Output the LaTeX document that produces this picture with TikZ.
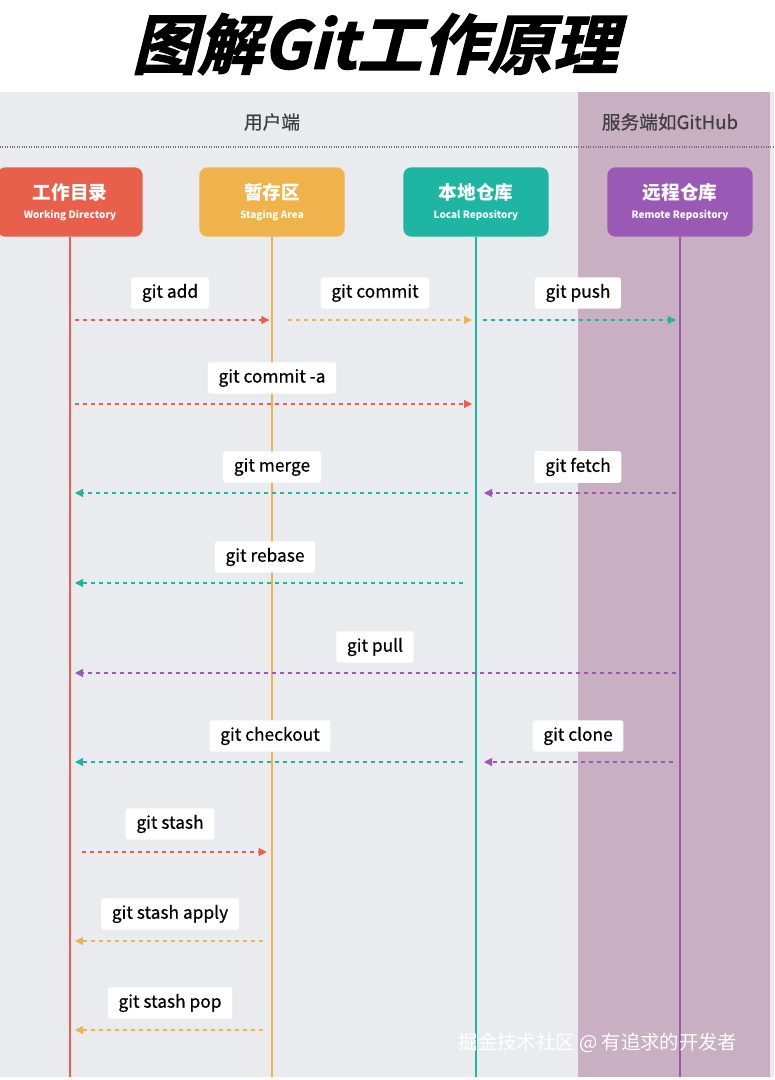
\documentclass[tikz,border=0pt]{standalone}
\usepackage{fontspec}
\setmainfont{Noto Sans CJK SC}
\newfontfamily\titlefont[FakeSlant=0.25,FakeBold=2]{Noto Sans CJK SC Bold}
\newfontfamily\labfont[FakeBold=0.6]{Noto Sans CJK SC}
\usetikzlibrary{arrows.meta}
\definecolor{cred}{HTML}{E8604C}
\definecolor{corange}{HTML}{F0B24A}
\definecolor{cteal}{HTML}{1FB5A3}
\definecolor{cpurple}{HTML}{9B59B6}
\definecolor{bgc}{HTML}{E9EBEE}
\definecolor{srv}{HTML}{C9AFC2}
\newcommand\subfnt{\bfseries\fontsize{7.5}{9}\selectfont}
\tikzset{
 head/.style={rounded corners=6pt,minimum width=109pt,minimum height=52pt,align=center,text=white,font=\bfseries\fontsize{14}{16}\selectfont},
 life/.style={line width=1.8pt},
 msg/.style={dashed,line width=0.8pt,-{Triangle[length=6pt,width=6pt]}},
 lab/.style={fill=white,rounded corners=2pt,inner xsep=8pt,inner ysep=5pt,font=\labfont\fontsize{13}{15}\selectfont}
}
\begin{document}
\begin{tikzpicture}[x=0.75pt,y=-0.75pt]
\useasboundingbox (0,0) rectangle (774,1080);
\fill[white] (0,0) rectangle (774,1080);
\fill[bgc] (0,92) rectangle (774,1077);
\fill[srv] (578,92) rectangle (770,1077);
\node[font=\titlefont\fontsize{49}{52}\selectfont] (title) at (375,44) {图解Git工作原理};
\node[font=\labfont\fontsize{14}{16}\selectfont,text=black!75] (u) at (272,122) {用户端};
\node[font=\labfont\fontsize{14}{16}\selectfont,text=black!75] (s) at (670,122) {服务端如GitHub};
\draw[densely dotted,black!55,line width=0.8pt] (0,147) -- (774,147);
\foreach \n/\x/\c/\a/\b in {wd/70/cred/工作目录/Working Directory, sa/272/corange/暂存区/Staging Area, lr/476/cteal/本地仓库/Local Repository, rr/680/cpurple/远程仓库/Remote Repository}{
  \node[head,fill=\c] (\n) at (\x,202) {\a\\[-2pt]{\subfnt \b}};
  \coordinate (\n e) at (\x,1077);
  \draw[life,\c] (\n) -- (\n e);
}
\foreach \y in {320,404,493,583,673,762,852,941,1030}{
  \coordinate (wd\y) at (75,\y); \coordinate (sa\y) at (272,\y);
  \coordinate (lr\y) at (476,\y); \coordinate (rr\y) at (680,\y);
}
\draw[msg,cred] (wd320) -- ([xshift=-2]sa320);
\draw[msg,corange] ([xshift=12]sa320) -- ([xshift=-3]lr320);
\draw[msg,cteal] ([xshift=5]lr320) -- ([xshift=-3]rr320);
\node[lab] (l1) at (170,293) {git add};
\node[lab] (l2) at (375,293) {git commit};
\node[lab] (l3) at (578,293) {git push};
\draw[msg,cred] (wd404) -- ([xshift=-3]lr404);
\node[lab] (l4) at (272,378) {git commit -a};
\draw[msg,cteal] ([xshift=-6]lr493) -- (wd493);
\draw[msg,cpurple] ([xshift=-3]rr493) -- ([xshift=6]lr493);
\node[lab] (l5) at (272,467) {git merge};
\node[lab] (l6) at (578,467) {git fetch};
\draw[msg,cteal] ([xshift=-10]lr583) -- (wd583);
\node[lab] (l7) at (265,557) {git rebase};
\draw[msg,cpurple] ([xshift=-3]rr673) -- (wd673);
\node[lab] (l8) at (375,647) {git pull};
\draw[msg,cteal] ([xshift=-10]lr762) -- (wd762);
\draw[msg,cpurple] ([xshift=-5]rr762) -- ([xshift=6]lr762);
\node[lab] (l9) at (270,736) {git checkout};
\node[lab] (l10) at (578,736) {git clone};
\draw[msg,cred] ([xshift=5]wd852) -- ([xshift=-4]sa852);
\node[lab] (l11) at (170,824) {git stash};
\draw[msg,corange] ([xshift=-7]sa941) -- (wd941);
\node[lab] (l12) at (170,914) {git stash apply};
\draw[msg,corange] ([xshift=-7]sa1030) -- (wd1030);
\node[lab] (l13) at (170,1003) {git stash pop};
\node[text=white,font=\fontsize{14.5}{16}\selectfont] (wm) at (598,1043) {掘金技术社区 @ 有追求的开发者};
\end{tikzpicture}
\end{document}
